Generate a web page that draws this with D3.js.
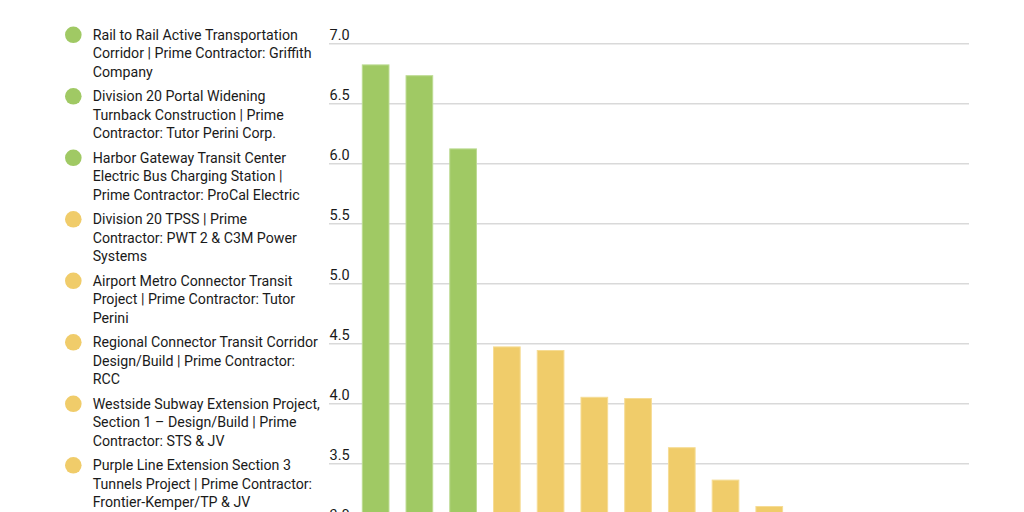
<!DOCTYPE html>
<html>
<head>
<meta charset="utf-8">
<script src="https://cdn.jsdelivr.net/npm/d3@7/dist/d3.min.js"></script>
<style>
  html, body { margin: 0; padding: 0; background: #fff; overflow: hidden; }
  svg { display: block; }
  text { font-family: Roboto, "Noto Sans", sans-serif; fill: #1a1a1a; }
</style>
</head>
<body>
<svg id="chart" width="1024" height="512"></svg>
<script>
// ---- data ----
const values = [6.82, 6.73, 6.12, 4.47, 4.44, 4.05, 4.04, 3.63, 3.36, 3.14];
const groups = ["green", "green", "green", "yellow", "yellow", "yellow", "yellow", "yellow", "yellow", "yellow"];
const legendLabels = [
  "Rail to Rail Active Transportation\nCorridor | Prime Contractor: Griffith\nCompany",
  "Division 20 Portal Widening\nTurnback Construction | Prime\nContractor: Tutor Perini Corp.",
  "Harbor Gateway Transit Center\nElectric Bus Charging Station |\nPrime Contractor: ProCal Electric",
  "Division 20 TPSS | Prime\nContractor: PWT 2 & C3M Power\nSystems",
  "Airport Metro Connector Transit\nProject | Prime Contractor: Tutor\nPerini",
  "Regional Connector Transit Corridor\nDesign/Build | Prime Contractor:\nRCC",
  "Westside Subway Extension Project,\nSection 1 \u2013 Design/Build | Prime\nContractor: STS & JV",
  "Purple Line Extension Section 3\nTunnels Project | Prime Contractor:\nFrontier-Kemper/TP & JV"
];
const yTicks = [3.0, 3.5, 4.0, 4.5, 5.0, 5.5, 6.0, 6.5, 7.0];

const colors = { green: "#a0c964", yellow: "#f0cc6a" };
const strokes = { green: "#bcdb92", yellow: "#f6dc95" };

const svg = d3.select("#chart");

// ---- scales ----
const y = d3.scaleLinear().domain([0, 7]).range([883.3, 43.3]);
const x = d3.scaleBand()
  .domain(d3.range(values.length))
  .range([362.3, 782.6])
  .paddingInner(0.39)
  .paddingOuter(0);

const gridX0 = 329, gridX1 = 969;

// ---- gridlines + labels ----
const yAxis = d3.axisLeft(y)
  .tickValues(yTicks)
  .tickSize(-(gridX1 - gridX0))
  .tickFormat(d3.format(".1f"));

const ga = svg.append("g")
  .attr("transform", `translate(${gridX0},0)`)
  .call(yAxis);
ga.select(".domain").remove();
ga.selectAll(".tick line")
  .attr("stroke", "#d9d9d9")
  .attr("stroke-width", 1.5);
ga.selectAll(".tick text")
  .attr("x", 0.5)
  .attr("dy", -4)
  .attr("y", 0)
  .attr("text-anchor", "start")
  .attr("font-size", 14.5)
  .style("font-family", "Roboto, sans-serif")
  .attr("fill", "#111");

// ---- bars ----
svg.append("g").selectAll("rect")
  .data(values)
  .join("rect")
  .attr("x", (d, i) => x(i))
  .attr("width", x.bandwidth())
  .attr("y", d => y(d))
  .attr("height", d => y(0) - y(d))
  .attr("fill", (d, i) => colors[groups[i]])
  .attr("stroke", (d, i) => strokes[groups[i]])
  .attr("stroke-width", 1);

// ---- legend ----
const legend = svg.append("g");
const itemStep = 61.5, lineH = 18.6, firstBase = 39.8;
const items = legend.selectAll("g.item")
  .data(legendLabels)
  .join("g")
  .attr("class", "item")
  .attr("transform", (d, i) => `translate(0,${firstBase + i * itemStep})`);

items.append("circle")
  .attr("cx", 73.3)
  .attr("cy", -5)
  .attr("r", 8.3)
  .attr("fill", (d, i) => colors[groups[i]]);

items.append("text")
  .attr("x", 92.7)
  .attr("y", 0)
  .attr("font-size", 14.2)
  .attr("font-weight", 400)
  .attr("fill", "#111")
  .selectAll("tspan")
  .data(d => d.split("\n"))
  .join("tspan")
  .attr("x", 92.7)
  .attr("dy", (d, j) => j === 0 ? 0 : lineH)
  .text(d => d);
</script>
</body>
</html>
